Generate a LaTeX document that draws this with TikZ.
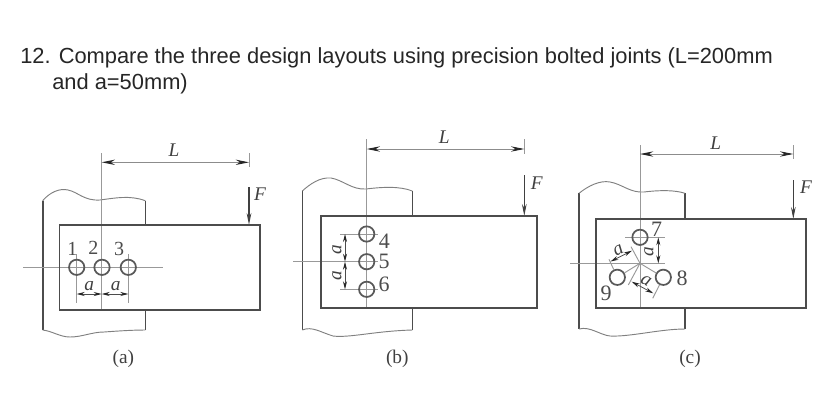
\documentclass[tikz,border=0pt]{standalone}
\usepackage{fontspec}
\usetikzlibrary{arrows.meta}
\setmainfont{Liberation Serif}
\newfontfamily\titlefont{Liberation Sans}
\tikzset{
	part/.style={line width=1.2pt, draw=black!70},
	wave/.style={line width=0.7pt, draw=black!50},
	thinline/.style={line width=0.7pt, draw=black!40},
	dimlong/.style={{Stealth[length=10pt,width=4pt,black!85]}-{Stealth[length=10pt,width=4pt,black!85]}, line width=0.7pt, draw=black!45},
	dimshort/.style={{Stealth[length=6pt,width=3pt,black!85]}-{Stealth[length=6pt,width=3pt,black!85]}, line width=0.6pt, draw=black!70},
	force/.style={-{Stealth[length=9pt,width=3.5pt]}, line width=0.9pt, draw=black!75},
	hole/.style={circle, draw=black!65, line width=1.3pt, minimum size=11.5pt, inner sep=0pt},
	num/.style={text=black!70, font=\fontsize{15}{15}\selectfont},
	numbig/.style={text=black!70, font=\fontsize{16.5}{16.5}\selectfont},
	dimlabel/.style={text=black!75, font=\fontsize{14.5}{14.5}\selectfont\itshape},
	caption/.style={text=black!75, font=\fontsize{14.5}{14.5}\selectfont},
	titletext/.style={anchor=base west, inner sep=0pt, text=black!85, font=\titlefont\fontsize{16.4}{16.4}\selectfont}
}
\begin{document}
\begin{tikzpicture}[>=stealth, x=0.75pt, y=-0.75pt]
	\useasboundingbox (0,0) rectangle (830,401);

	% titre
	\node[titletext] (title1) at (20,63) {12. Compare the three design layouts using precision bolted joints (L=200mm};
	\node[titletext] (title2) at (52,89) {and a=50mm)};

	% (a)
	\draw[part] (42.7,200.7) -- (42.7,330);
	\draw[part] (145.3,200.7) -- (145.3,225);
	\draw[part] (145.3,310) -- (145.3,330);
	\draw[wave] (42.7,200.7) .. controls (50,192) and (60,188) .. (68,190) .. controls (78,192) and (84,201) .. (100,200) .. controls (115,198) and (130,195) .. (145.3,200.7);
	\draw[wave] (42.7,330) .. controls (52,331) and (60,337) .. (70,337) .. controls (82,337) and (92,332) .. (104,332) .. controls (118,331) and (132,330) .. (145.3,330);
	\coordinate (Atop) at (101.7,153);
	\coordinate (Abot) at (101.7,310);
	\coordinate (Aend) at (249,153);
	\coordinate (Aload) at (249,225);
	\draw[thinline] (Atop) -- (Abot);
	\draw[thinline] (Aend) -- (249,167);
	\coordinate (AL) at (101.7,162.3);
	\coordinate (AR) at (249,162.3);
	\draw[dimlong] (AL) -- (AR);
	\node[dimlabel] (Llabela) at (174,150) {L};
	\coordinate (Aforce) at (249,187);
	\draw[force] (Aforce) -- (Aload);
	\node[dimlabel] (Fa) at (260,194) {F};
	\coordinate (Acl) at (23,267.3);
	\coordinate (Acr) at (163,267.3);
	\draw[thinline] (Acl) -- (Acr);
	\coordinate (Ae1a) at (76.7,254);
	\coordinate (Ae1) at (76.7,303);
	\coordinate (Ae3a) at (128.3,254);
	\coordinate (Ae3) at (128.3,303);
	\draw[thinline] (Ae1a) -- (Ae1);
	\draw[thinline] (Ae3a) -- (Ae3);
	\node[hole] (h1) at (76.7,267.3) {};
	\node[hole] (h2) at (102,267.3) {};
	\node[hole] (h3) at (128.3,267.3) {};
	\node[num] (n1) at (72.3,249) {1};
	\node[num] (n2) at (93.3,248) {2};
	\node[num] (n3) at (119,249) {3};
	\coordinate (Ad1) at (76.7,294);
	\coordinate (Ad2) at (101.7,294);
	\coordinate (Ad3) at (128.3,294);
	\draw[dimshort] (Ad1) -- (Ad2);
	\draw[dimshort] (Ad2) -- (Ad3);
	\node[dimlabel] (a1) at (89.3,286) {a};
	\node[dimlabel] (a2) at (115.7,286) {a};
	\draw[part] (59.3,225) rectangle (260,310);
	\node[caption] (capa) at (123.3,359) {(a)};

	% (b)
	\draw[part] (302.3,191) -- (302.3,330);
	\draw[part] (412.3,191) -- (412.3,216);
	\draw[part] (412.3,307.7) -- (412.3,330);
	\draw[wave] (302.3,191) .. controls (310,184) and (320,177) .. (331,178) .. controls (343,180) and (352,190) .. (366,189) .. controls (382,187) and (400,186) .. (412.3,191);
	\draw[wave] (302.3,330) .. controls (312,326) and (320,332) .. (333,336) .. controls (350,338) and (375,331) .. (412.3,330);
	\coordinate (Btop) at (366.7,139.3);
	\coordinate (Bbot) at (366.7,307.7);
	\coordinate (Bend) at (524.3,139.3);
	\coordinate (Bload) at (524.3,216);
	\draw[thinline] (Btop) -- (Bbot);
	\draw[thinline] (Bend) -- (524.3,154);
	\coordinate (BL) at (366.7,149);
	\coordinate (BR) at (524.3,149);
	\draw[dimlong] (BL) -- (BR);
	\node[dimlabel] (Llabelb) at (444.3,137.3) {L};
	\coordinate (Bforce) at (524.3,175);
	\draw[force] (Bforce) -- (Bload);
	\node[dimlabel] (Fb) at (536.7,182.7) {F};
	\coordinate (Bcl) at (293.3,261.7);
	\coordinate (Bcr) at (378,261.7);
	\draw[thinline] (Bcl) -- (Bcr);
	\coordinate (Be4) at (340,234);
	\coordinate (Be4r) at (378,234);
	\coordinate (Be6) at (340,289.3);
	\coordinate (Be6r) at (378,289.3);
	\draw[thinline] (Be4) -- (Be4r);
	\draw[thinline] (Be6) -- (Be6r);
	\node[hole] (h4) at (366.7,234) {};
	\node[hole] (h5) at (366.7,261.7) {};
	\node[hole] (h6) at (366.7,289.3) {};
	\node[numbig] (n4) at (384.3,241.7) {4};
	\node[numbig] (n5) at (384,261.7) {5};
	\node[numbig] (n6) at (384,284) {6};
	\coordinate (Bd4) at (345,234);
	\coordinate (Bd5) at (345,261.7);
	\coordinate (Bd6) at (345,289.3);
	\draw[dimshort] (Bd4) -- (Bd5);
	\draw[dimshort] (Bd5) -- (Bd6);
	\node[dimlabel, rotate=90] (a3) at (337,249.3) {a};
	\node[dimlabel, rotate=90] (a4) at (337,275.7) {a};
	\draw[part] (320.7,216) rectangle (536.7,307.7);
	\node[caption] (capb) at (397.3,359.3) {(b)};

	% (c)
	\draw[part] (579,193.3) -- (579,329);
	\draw[part] (685,193.3) -- (685,219);
	\draw[part] (685,307.7) -- (685,329);
	\draw[wave] (579,193.3) .. controls (588,186) and (600,180) .. (610,182) .. controls (622,184) and (630,193) .. (644,192) .. controls (660,190) and (675,190) .. (685,193.3);
	\draw[wave] (579,329) .. controls (590,326) and (600,335) .. (610,336) .. controls (630,337) and (660,329) .. (685,329);
	\coordinate (Ctop) at (640,145);
	\coordinate (Cbot) at (640,307.7);
	\coordinate (Cend) at (793.3,145);
	\coordinate (Cload) at (793.3,219);
	\coordinate (O) at (640,263.3);
	\draw[thinline] (Ctop) -- (Cbot);
	\draw[thinline] (Cend) -- (793.3,159);
	\coordinate (CL) at (640,154);
	\coordinate (CR) at (793.3,154);
	\draw[dimlong] (CL) -- (CR);
	\node[dimlabel] (Llabelc) at (715.7,143.3) {L};
	\coordinate (Cforce) at (793.3,180);
	\draw[force] (Cforce) -- (Cload);
	\node[dimlabel] (Fc) at (806,186.7) {F};
	\coordinate (Ccl) at (570,263.3);
	\coordinate (Ccr) at (665,263.3);
	\draw[thinline] (Ccl) -- (Ccr);
	\coordinate (Ce7a) at (625,237.3);
	\coordinate (Ce7b) at (665,237.3);
	\draw[thinline] (Ce7a) -- (Ce7b);
	\node[hole] (h7) at (640,237.3) {};
	\node[hole] (h8) at (663.3,277.3) {};
	\node[hole] (h9) at (617.3,277.3) {};
	\node[numbig] (n7) at (656.7,229.3) {7};
	\node[numbig] (n8) at (682,278.3) {8};
	\node[numbig] (n9) at (606,293.3) {9};
	\draw[thinline] (O) -- (h8);
	\draw[thinline] (O) -- (h9);
	% cotes
	\coordinate (Ce9) at (609,259.3);
	\coordinate (Ce9o) at (631,246.7);
	\coordinate (Ce8) at (652.7,298.3);
	\coordinate (Ce8o) at (628.3,285);
	\draw[thinline] (h9) -- (Ce9);
	\draw[thinline] (O) -- (Ce9o);
	\draw[thinline] (h8) -- (Ce8);
	\draw[thinline] (O) -- (Ce8o);
	\coordinate (Cd7a) at (658.3,237.3);
	\coordinate (Cd7b) at (658.3,263.3);
	\draw[dimshort] (Cd7a) -- (Cd7b);
	\coordinate (Cd9a) at (610.5,261.5);
	\coordinate (Cd9b) at (632,250.7);
	\draw[dimshort] (Cd9a) -- (Cd9b);
	\coordinate (Cd8a) at (631.7,281.7);
	\coordinate (Cd8b) at (653.3,293.3);
	\draw[dimshort] (Cd8a) -- (Cd8b);
	\node[dimlabel, rotate=90] (a5) at (649,251.7) {a};
	\node[dimlabel, rotate=27] (a6) at (618.3,250) {a};
	\node[dimlabel, rotate=-28] (a7) at (646,281) {a};
	\draw[part] (596,219) rectangle (806,307.7);
	\node[caption] (capc) at (690,359) {(c)};

\end{tikzpicture}
\end{document}
